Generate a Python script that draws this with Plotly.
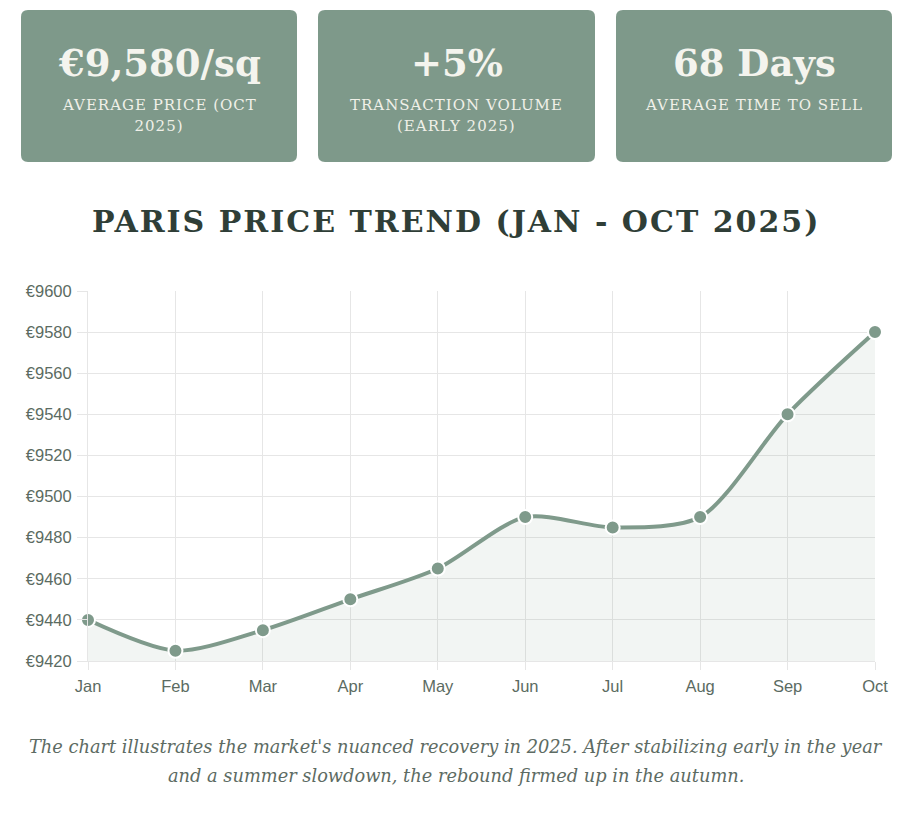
import plotly.graph_objects as go

months = ["Jan", "Feb", "Mar", "Apr", "May", "Jun", "Jul", "Aug", "Sep", "Oct"]
prices = [9440, 9425, 9435, 9450, 9465, 9490, 9485, 9490, 9540, 9580]
y_ticks = [9420, 9440, 9460, 9480, 9500, 9520, 9540, 9560, 9580, 9600]
kpi_values = ["€9,580/sq", "+5%", "68 Days"]
kpi_labels = [["AVERAGE PRICE (OCT", "2025)"], ["TRANSACTION VOLUME", "(EARLY 2025)"], ["AVERAGE TIME TO SELL"]]
title_text = "PARIS PRICE TREND (JAN - OCT 2025)"
caption_lines = [
    "The chart illustrates the market's nuanced recovery in 2025. After stabilizing early in the year",
    "and a summer slowdown, the rebound firmed up in the autumn.",
]

W, H = 912, 820
L, R, T, B = 88, 875, 291, 661
PW, PH = R - L, B - T

def px(x):
    return (x - L) / PW

def py(y):
    return (B - y) / PH

def rrect(x0, y0, x1, y1, r):
    rx, ry = r / PW, r / PH
    X0, X1 = px(x0), px(x1)
    Y0, Y1 = py(y0), py(y1)
    return (f"M {X0+rx},{Y0} L {X1-rx},{Y0} Q {X1},{Y0} {X1},{Y0-ry} "
            f"L {X1},{Y1+ry} Q {X1},{Y1} {X1-rx},{Y1} L {X0+rx},{Y1} "
            f"Q {X0},{Y1} {X0},{Y1+ry} L {X0},{Y0-ry} Q {X0},{Y0} {X0+rx},{Y0} Z")

green = "#7f9a8b"
serif = "DejaVu Serif"

fig = go.Figure()
fig.add_trace(go.Scatter(
    x=months, y=prices, mode="lines+markers",
    line=dict(color=green, width=4, shape="spline", smoothing=0.8),
    marker=dict(size=14, color=green, line=dict(color="white", width=2)),
    fill="tozeroy", fillcolor="rgba(127,154,139,0.10)",
    cliponaxis=False, hoverinfo="skip",
))

shapes = []
annotations = []
cards = [(21, 297), (318, 595), (616, 892)]
for (x0, x1), val, lab in zip(cards, kpi_values, kpi_labels):
    shapes.append(dict(type="path", xref="paper", yref="paper",
                       path=rrect(x0, 10, x1, 162, 7),
                       fillcolor="#7e998a", line=dict(width=0), layer="below"))
    cx = (x0 + x1) / 2
    annotations.append(dict(text=f"<b>{val}</b>", x=px(cx), y=py(63), xref="paper", yref="paper",
                            showarrow=False, xanchor="center", yanchor="middle",
                            font=dict(family=serif, size=37, color="#f4f4ee")))
    for i, line in enumerate(lab):
        annotations.append(dict(text=line, x=px(cx), y=py(105 + 21 * i),
                                xref="paper", yref="paper",
                                showarrow=False, xanchor="center", yanchor="middle",
                                font=dict(family=serif, size=15, color="#f0f0e8")))

annotations.append(dict(text=f"<b>{title_text}</b>", x=px(456), y=py(222), xref="paper", yref="paper",
                        showarrow=False, xanchor="center", yanchor="middle",
                        font=dict(family=serif, size=30, color="#2f3e37")))
for i, line in enumerate(caption_lines):
    annotations.append(dict(text=f"<i>{line}</i>", x=px(456), y=py(746 + 29 * i), xref="paper", yref="paper",
                            showarrow=False, xanchor="center", yanchor="middle",
                            font=dict(family=serif, size=17.8, color="#5d6b63")))

tickfont = dict(family="Liberation Sans", size=16.5, color="#5b6b62")
fig.update_layout(
    width=W, height=H,
    margin=dict(l=L, r=W - R, t=T, b=H - B),
    paper_bgcolor="white", plot_bgcolor="white",
    showlegend=False,
    shapes=shapes, annotations=annotations,
    xaxis=dict(range=[0, 9], showgrid=True, gridcolor="#e6e6e6", gridwidth=1,
               ticks="outside", ticklen=8, tickcolor="#e6e6e6", zeroline=False,
               showline=True, linecolor="#e6e6e6", ticklabelstandoff=2,
               tickfont=tickfont),
    yaxis=dict(range=[9420, 9600], tickvals=y_ticks, ticktext=[f"€{v}" for v in y_ticks],
               showgrid=True, gridcolor="#e6e6e6", gridwidth=1,
               ticks="outside", ticklen=10, tickcolor="#e6e6e6", zeroline=False,
               showline=True, linecolor="#e6e6e6", ticklabelstandoff=2,
               tickfont=tickfont),
)

post = """
(function(){
  var gd = document.getElementById('{plot_id}');
  function apply(){
    gd.querySelectorAll('.annotation-text').forEach(function(t){
      var s = t.textContent;
      if (s.indexOf('PARIS PRICE TREND') === 0) {
        t.style.letterSpacing = '2px';
      } else if (/^[A-Z0-9() ]+$/.test(s)) {
        t.style.letterSpacing = '1px';
      }
    });
  }
  apply();
  gd.on('plotly_afterplot', apply);
})();
"""

fig.write_html("out.html", config={"displayModeBar": False}, post_script=post)
